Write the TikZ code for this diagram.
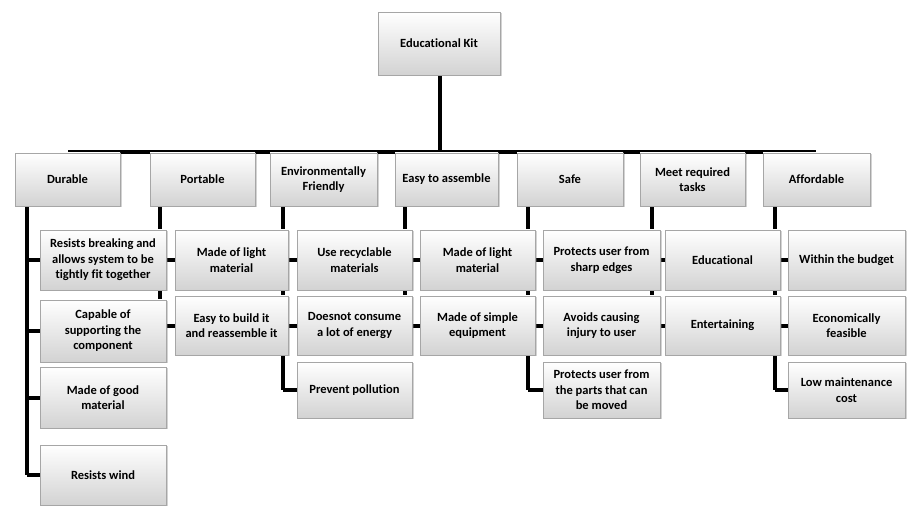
\documentclass[tikz,border=0pt]{standalone}
\usepackage{fontspec}
\setmainfont{Carlito}[Ligatures=NoCommon]
\usetikzlibrary{shadows}
\begin{document}
\begin{tikzpicture}[x=1pt,y=-1pt,
 box/.style={draw=gray!70,top color=white,bottom color=gray!35,drop shadow={shadow xshift=1.5pt,shadow yshift=-1.5pt,opacity=.35},inner sep=1pt,align=center,font=\bfseries\fontsize{12.5}{15.5}\selectfont},
 ln/.style={line width=3.2pt,black}]
\useasboundingbox (0,0) rectangle (922,510);
\newcommand\bx[6]{\node[box,minimum width=#4-#2,minimum height=#5-#3] (#1) at ({(#2+#4)/2},{(#3+#5)/2}) {#6};}
% lines
\coordinate (tr) at (440,152);
\draw[ln] (440,75) -- (tr);
\draw[ln] (68,152) -- (816,152);
\foreach \x in {68,202,323,446,570,692,816} \draw[ln] (\x,152) -- (\x,156);
\draw[ln] (27,206) -- (27,475);
\foreach \y in {260,331,398,475} \draw[ln] (27,\y) -- (42,\y);
\draw[ln] (160,206) -- (160,326);
\foreach \y in {260,326} \draw[ln] (160,\y) -- (176,\y);
\draw[ln] (283,206) -- (283,390);
\foreach \y in {260,326,390} \draw[ln] (283,\y) -- (298,\y);
\draw[ln] (405,206) -- (405,326);
\foreach \y in {260,326} \draw[ln] (405,\y) -- (420,\y);
\draw[ln] (528,206) -- (528,390);
\foreach \y in {260,326,390} \draw[ln] (528,\y) -- (544,\y);
\draw[ln] (652,206) -- (652,326);
\foreach \y in {260,326} \draw[ln] (652,\y) -- (666,\y);
\draw[ln] (775,206) -- (775,390);
\foreach \y in {260,326,390} \draw[ln] (775,\y) -- (789,\y);
% boxes
\bx{root}{378}{12}{500}{75}{Educational Kit}
\bx{d}{15}{153}{120}{206}{Durable}
\bx{p}{150}{153}{255}{206}{Portable}
\bx{e}{270}{153}{377}{206}{Environmentally\\Friendly}
\bx{a}{395}{153}{498}{206}{Easy to assemble}
\bx{s}{517}{153}{623}{206}{Safe}
\bx{m}{640}{153}{745}{206}{Meet required\\tasks}
\bx{f}{763}{153}{870}{206}{Affordable}
\bx{d1}{40}{230}{166}{290}{Resists breaking and\\allows system to be\\tightly fit together}
\bx{d2}{40}{300}{166}{362}{Capable of\\supporting the\\component}
\bx{d3}{40}{367}{166}{428}{Made of good\\material}
\bx{d4}{40}{445}{166}{505}{Resists wind}
\bx{p1}{175}{230}{288}{290}{Made of light\\material}
\bx{p2}{175}{296}{288}{355}{Easy to build it\\and reassemble it}
\bx{e1}{297}{230}{412}{290}{Use recyclable\\materials}
\bx{e2}{297}{296}{412}{355}{Doesnot consume\\a lot of energy}
\bx{e3}{297}{362}{412}{418}{Prevent pollution}
\bx{a1}{420}{230}{535}{290}{Made of light\\material}
\bx{a2}{420}{296}{535}{355}{Made of simple\\equipment}
\bx{s1}{543}{230}{660}{290}{Protects user from\\sharp edges}
\bx{s2}{543}{296}{660}{355}{Avoids causing\\injury to user}
\bx{s3}{543}{362}{660}{418}{Protects user from\\the parts that can\\be moved}
\bx{m1}{665}{230}{780}{290}{Educational}
\bx{m2}{665}{296}{780}{355}{Entertaining}
\bx{f1}{788}{230}{905}{290}{Within the budget}
\bx{f2}{788}{296}{905}{355}{Economically\\feasible}
\bx{f3}{788}{362}{905}{418}{Low maintenance\\cost}
\end{tikzpicture}
\end{document}
